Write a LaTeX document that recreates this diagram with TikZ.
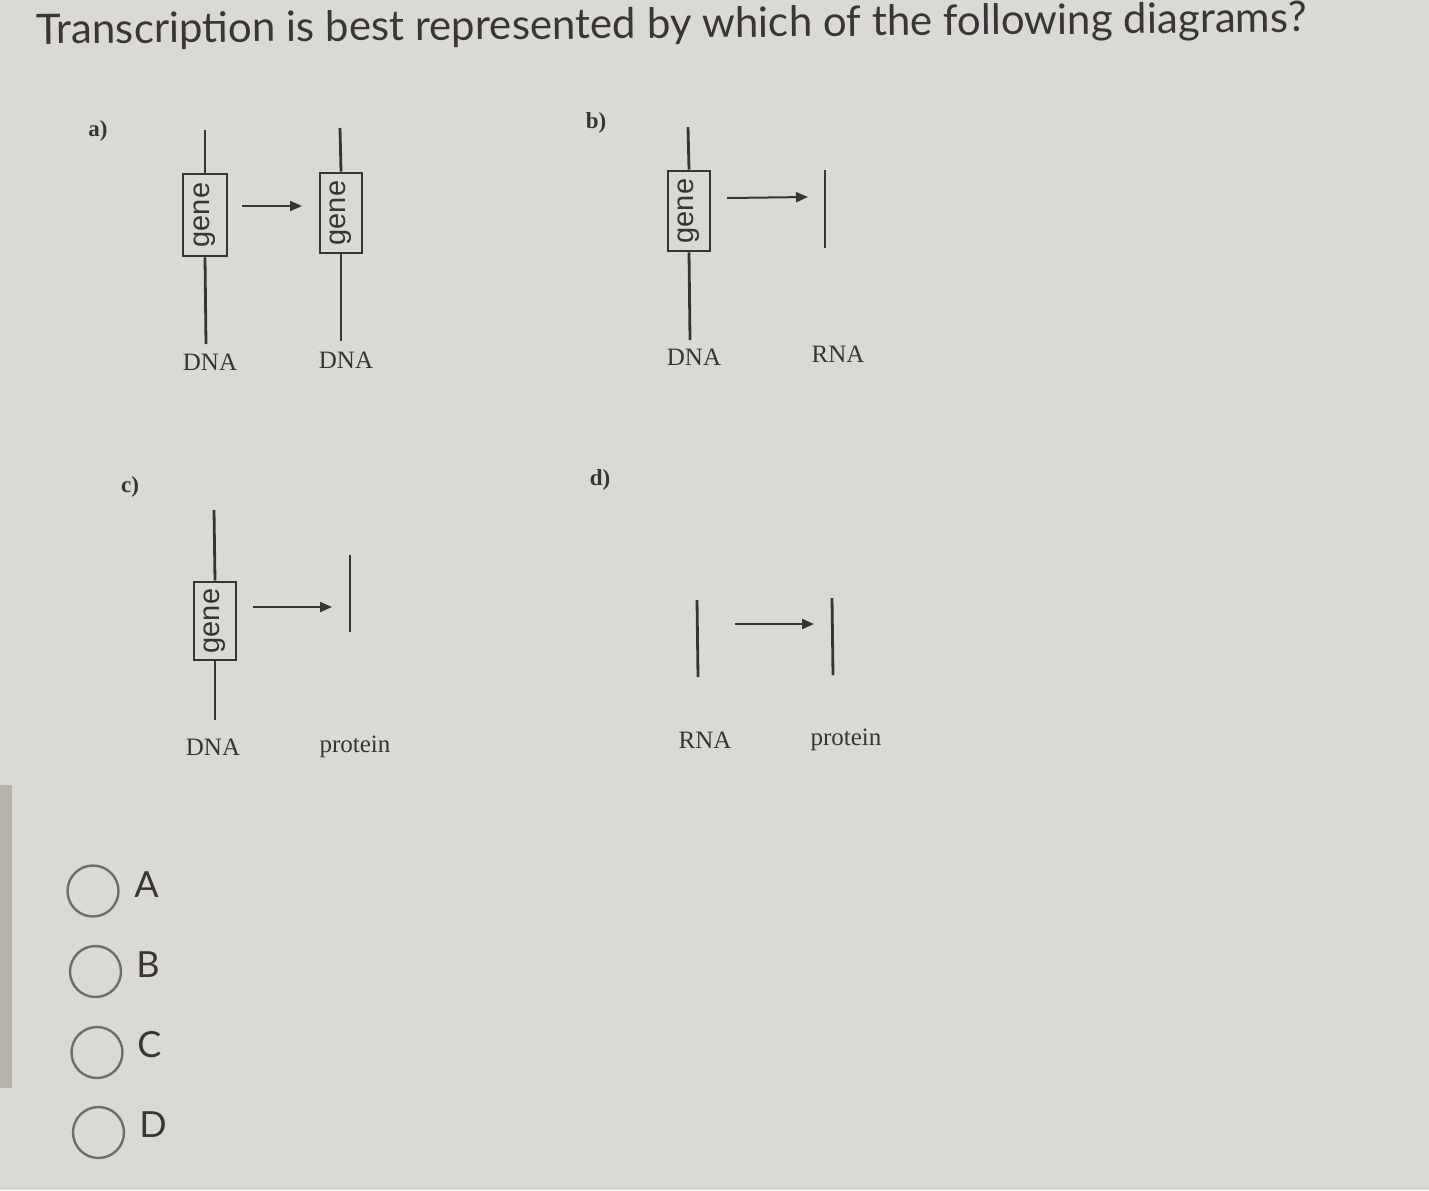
\documentclass[tikz,border=0pt]{standalone}
\usepackage{fontspec}
\setmainfont{Liberation Serif}
\newfontfamily\lato{Lato}
\newfontfamily\arial{Liberation Sans}
\usetikzlibrary{arrows.meta}
\definecolor{bg}{HTML}{DADAD4}
\definecolor{ink}{HTML}{363434}
\definecolor{titleink}{HTML}{3B3538}
\definecolor{ringgray}{HTML}{6E6D6B}
\definecolor{stripgray}{HTML}{B7B3AB}
\begin{document}
\begin{tikzpicture}[x=0.5pt,y=-0.5pt,
  strand/.style={line width=1.4pt, draw=ink},
  genebox/.style={draw=ink, line width=1.4pt, rotate=90, minimum width=40pt, minimum height=21pt, inner sep=0pt, font=\arial\fontsize{14.5}{14.5}\selectfont, text=ink},
  lbl/.style={anchor=base, font=\fontsize{12.5}{13}\selectfont, text=ink},
  arr/.style={line width=1pt, draw=ink, -{Triangle[length=6pt,width=5pt]}},
  paneltag/.style={font=\bfseries\fontsize{11.5}{11.5}\selectfont, text=ink},
  radio/.style={circle, draw=ringgray, line width=1.2pt, minimum size=25.5pt, inner sep=0pt},
  choicetxt/.style={anchor=base west, inner sep=0pt, font=\lato\fontsize{18}{18}\selectfont, text=titleink}]
\fill[bg] (0,0) rectangle (1429,1190);
\useasboundingbox (0,0) rectangle (1429,1190);
\fill[stripgray] (0,785) rectangle (12,1088);

% title
\node[anchor=base west, inner sep=0pt, rotate=0.55, font=\lato\fontsize{21}{21}\selectfont, text=titleink] (title) at (36,44) {Transcription is best represented by which of the following diagrams?};

% panel a
\node[paneltag] (taga) at (98,131) {a)};
\coordinate (a1t) at (205,130);
\coordinate (a1b) at (206,344);
\node[genebox, minimum width=41pt, minimum height=22pt] (ga1) at (205,215) {gene};
\draw[strand] (a1t) -- (ga1.east);
\draw[strand] (ga1.west) -- (a1b);
\coordinate (a2t) at (340,128);
\coordinate (a2b) at (341,341);
\node[genebox] (ga2) at (341,213) {gene};
\draw[strand] (a2t) -- (ga2.east);
\draw[strand] (ga2.west) -- (a2b);
\coordinate (aas) at (242,206);
\coordinate (aae) at (302,206);
\draw[arr] (aas) -- (aae);
\node[lbl] (dnaa1) at (210,370) {DNA};
\node[lbl] (dnaa2) at (346,368) {DNA};

% panel b
\node[paneltag] (tagb) at (596,123) {b)};
\coordinate (bt) at (688,127);
\coordinate (bb) at (690,340);
\node[genebox] (gb) at (689,211) {gene};
\draw[strand] (bt) -- (gb.east);
\draw[strand] (gb.west) -- (bb);
\coordinate (bas) at (727,198);
\coordinate (bae) at (808,197);
\draw[arr] (bas) -- (bae);
\coordinate (brt) at (825,170);
\coordinate (brb) at (825,248);
\draw[strand] (brt) -- (brb);
\node[lbl] (dnab) at (694,365) {DNA};
\node[lbl] (rnab) at (838,362) {RNA};

% panel c
\node[paneltag] (tagc) at (130,487) {c)};
\coordinate (ct) at (214,510);
\coordinate (cb) at (215,720);
\node[genebox, minimum width=39pt] (gc) at (215,621) {gene};
\draw[strand] (ct) -- (gc.east);
\draw[strand] (gc.west) -- (cb);
\coordinate (cas) at (253,607);
\coordinate (cae) at (332,607);
\draw[arr] (cas) -- (cae);
\coordinate (cpt) at (350,555);
\coordinate (cpb) at (350,632);
\draw[strand] (cpt) -- (cpb);
\node[lbl] (dnac) at (213,755) {DNA};
\node[lbl] (protc) at (355,752) {protein};

% panel d
\node[paneltag] (tagd) at (600,480) {d)};
\coordinate (drt) at (697,600);
\coordinate (drb) at (698,677);
\draw[strand] (drt) -- (drb);
\coordinate (das) at (735,624);
\coordinate (dae) at (814,624);
\draw[arr] (das) -- (dae);
\coordinate (dpt) at (832,598);
\coordinate (dpb) at (833,675);
\draw[strand] (dpt) -- (dpb);
\node[lbl] (rnad) at (705,748) {RNA};
\node[lbl] (protd) at (846,745) {protein};

% choices
\node[radio] (ra) at (93,891) {};
\node[radio] (rb) at (95.5,971.5) {};
\node[radio] (rc) at (97,1052.5) {};
\node[radio] (rd) at (98.5,1132.5) {};
\node[choicetxt] (ca) at (134,897) {A};
\node[choicetxt] (cbx) at (136,977) {B};
\node[choicetxt] (cc) at (137,1057) {C};
\node[choicetxt] (cd) at (139,1137) {D};
\end{tikzpicture}
\end{document}
